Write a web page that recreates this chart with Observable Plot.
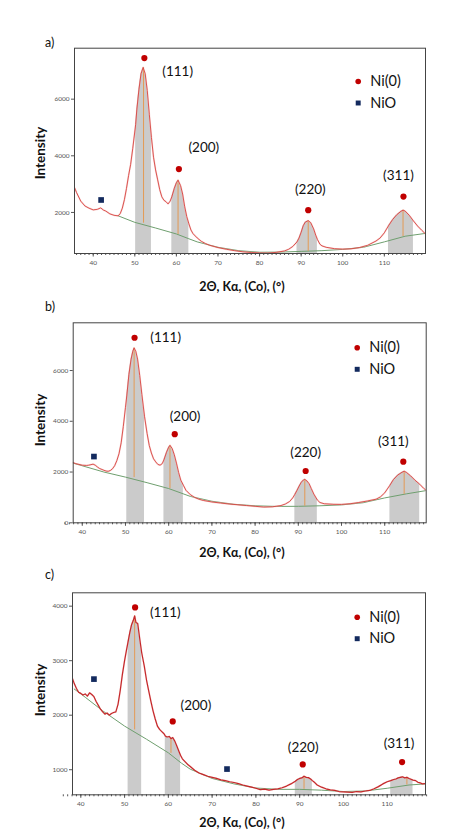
<!DOCTYPE html>
<html><head><meta charset="utf-8">
<script src="https://cdn.jsdelivr.net/npm/d3@7"></script>
<script src="https://cdn.jsdelivr.net/npm/@observablehq/plot@0.6"></script>
<style>
body{margin:0;background:#fff;font-family:Lato,"Open Sans",sans-serif;}
#wrap{position:relative;width:474px;height:831px;overflow:hidden;background:#fff;}
.panel{position:absolute;left:0;}
.lbl{position:absolute;font-size:12.5px;line-height:12px;color:#111;}
.ytitle{position:absolute;font-weight:bold;font-size:13.5px;transform:translate(-50%,-50%) rotate(-90deg);white-space:nowrap;color:#111;}
.xtitle{position:absolute;font-weight:bold;font-size:12.5px;transform:translate(-50%,-50%);white-space:nowrap;color:#111;}
</style></head>
<body><div id="wrap"></div>
<script>
// ---------- shared ----------
const millerLabels = ["(111)", "(200)", "(220)", "(311)"];
const legendLabels = ["Ni(0)", "NiO"];
const xMajorTicks = [40, 50, 60, 70, 80, 90, 100, 110];
const xTitle = "2Θ, Kα, (Co), (°)";
const yTitle = "Intensity";

// ---------- panel a ----------
const twoThetaA = [35.5,36,37,38,39,40,41,41.8,42.5,43,44,45,46,46.5,47,47.5,48,48.5,49,49.5,50.2,50.5,51,51.5,52,52.5,53,53.5,54,54.5,55,55.5,56,56.5,57,57.5,58,58.5,58.9,59.5,60,60.4,61,61.5,62,62.5,63,63.5,64,65,66,67,68,70,72,74,76,78,80,82,84,86,87,88,89,89.5,90,90.5,91,91.7,92.3,93,93.5,93.9,94.5,95,96,98,100,102,104,106,108,109,110,111,112,113,114,114.5,115,116,117,118,119,119.9];
const intensityA = [2880,2700,2400,2230,2150,2090,2110,2160,2080,2050,1950,1900,1880,1960,2150,2450,2850,3300,3700,4250,5100,5650,6350,6900,7120,6900,6300,5450,4650,3950,3500,3150,2800,2550,2430,2380,2300,2400,2550,2850,3050,3140,2950,2650,2200,1850,1600,1380,1250,1100,980,900,840,760,700,650,610,585,570,565,590,640,700,800,960,1100,1300,1530,1660,1710,1640,1420,1200,1050,880,820,770,720,705,715,760,840,990,1100,1280,1530,1750,1920,2040,2080,2050,1900,1700,1520,1370,1240];
const baseXA = [46,50,55,60,63,65,70,75,80,85,90,95,100,105,110,115,119.9];
const baseYA = [1880,1650,1450,1240,1070,960,770,650,595,600,625,650,695,770,960,1160,1260];
const winLoA = [50.2, 58.9, 89.0, 111.0];
const winHiA = [54.0, 63.0, 93.9, 117.0];
const peakXA = [52.1, 60.4, 91.7, 114.5];
const peakBaseA = [1620, 1220, 625, 1150];
const peakTopA = [7120, 3140, 1710, 2080];
const ni0XA = [52.3, 60.6, 91.7, 114.6];
const ni0YA = [7450, 3530, 2080, 2560];
const nioXA = [41.9];
const nioYA = [2440];
const millerXA = [60.3, 66.6, 92.2, 113.4];
const millerYA = [6974, 4293, 2788, 3294];
const yTicksA = [2000, 4000, 6000];

// ---------- panel b ----------
const twoThetaB = [37.9,38.5,39,40,41,41.5,42,42.5,43,43.5,44,45,45.5,46,46.5,47,47.5,48,48.5,49,49.5,50,50.3,50.8,51.3,51.7,52,52.4,52.8,53.3,53.8,54.4,55,55.5,56,56.5,57,57.5,58,58.5,58.9,59.5,60,60.3,60.8,61.3,61.8,62.3,62.8,63.4,64,65,66,67,68,70,72,74,76,78,80,82,84,86,87,88,88.7,89.2,89.7,90.2,90.7,91.2,91.5,92,92.5,93,93.6,94.4,95,96,98,100,102,104,106,108,109,110,111.2,112,113,114,114.5,115,116,117,118.1,119,119.6];
const intensityB = [2370,2330,2310,2270,2260,2270,2290,2310,2270,2200,2140,2070,2040,2030,2060,2130,2250,2450,2720,3150,3800,4550,5000,5850,6450,6760,6890,6750,6450,5800,5050,4200,3520,3050,2750,2520,2400,2300,2270,2330,2480,2780,2980,3050,2930,2680,2350,1980,1680,1480,1280,1110,1000,930,880,820,780,740,710,680,650,620,630,680,740,840,980,1120,1280,1450,1600,1690,1710,1650,1540,1350,1130,900,800,750,730,725,750,800,860,930,1020,1180,1480,1700,1880,1990,2030,1990,1850,1680,1520,1360,1280];
const baseXB = [37.9,45,50,55,60,65,70,75,80,85,90,95,100,105,110,115,119.6];
const baseYB = [2350,2000,1800,1580,1350,1040,850,730,670,645,650,670,705,790,980,1140,1270];
const winLoB = [50.3, 58.9, 89.2, 111.2];
const winHiB = [54.4, 63.4, 94.4, 118.1];
const peakXB = [52.0, 60.3, 91.5, 114.5];
const peakBaseB = [1780, 1350, 650, 1120];
const peakTopB = [6890, 3050, 1710, 2030];
const ni0XB = [52.1, 61.4, 91.7, 114.3];
const ni0YB = [7290, 3490, 2040, 2410];
const nioXB = [42.7];
const nioYB = [2610];
const millerXB = [59.3, 63.8, 91.7, 112.0];
const millerYB = [7304, 4172, 2750, 3185];
const yTicksB = [0, 2000, 4000, 6000];

// ---------- panel c ----------
const twoThetaC = [38.1,38.5,39,39.5,40,40.5,41,41.5,42,42.5,43,43.5,44,44.5,45,45.5,46,46.5,47,47.5,48,48.5,49,49.5,50,50.4,50.8,51.2,51.6,52,52.3,52.6,53,53.5,53.9,54.5,55,55.5,56,56.5,57,57.5,58,58.5,59,59.3,59.7,60.2,60.6,61,61.5,62,62.4,62.8,63.2,63.8,64.5,65,66,67,68,69,70,71,72,73,74,75,76,77,78,79,80,81,82,83,84,85,86,87,88,89,89.5,90,90.5,91,91.5,92,92.5,92.9,93.5,94,95,96,97,98,99,100,101,102,103,104,105,106,107,108,109,110,110.8,111.5,112,112.5,113,113.5,114,114.5,115,115.9,116.5,117,117.5,118,118.75];
const intensityC = [2670,2580,2490,2420,2400,2370,2390,2350,2410,2380,2340,2250,2180,2110,2060,2020,2040,2000,2030,2050,2060,2200,2450,2750,3000,3180,3350,3520,3660,3740,3820,3700,3680,3380,3150,2900,2650,2450,2260,2080,1930,1800,1740,1700,1660,1620,1600,1610,1570,1590,1520,1420,1340,1260,1200,1150,1090,1060,990,940,910,880,860,840,815,800,780,765,745,720,700,680,660,635,645,625,640,650,670,700,740,790,820,840,850,880,860,855,830,800,760,720,680,650,630,620,600,595,590,585,600,595,610,620,650,690,740,780,800,820,830,850,860,870,850,860,840,810,800,770,760,740,745];
const baseXC = [38.5,41,45,50,55,60,63,65,70,75,80,85,90,95,100,105,110,115,118.75];
const baseYC = [2480,2330,2080,1800,1560,1310,1120,1010,840,740,665,640,640,625,600,610,660,720,740];
const winLoC = [50.8, 59.3, 89.0, 110.8];
const winHiC = [53.9, 62.8, 92.9, 115.9];
const peakXC = [52.3, 60.6, 91.0, 114.5];
const peakBaseC = [1730, 1300, 640, 720];
const peakTopC = [3820, 1570, 880, 860];
const ni0XC = [52.4, 61.0, 90.7, 113.4];
const ni0YC = [3976, 1886, 1098, 1141];
const nioXC = [43.0, 73.4];
const nioYC = [2662, 1012];
const millerXC = [59.3, 66.3, 90.8, 112.7];
const millerYC = [3878, 2179, 1409, 1477];
const yTicksC = [1000, 2000, 3000, 4000];

const GREY = "#cbcbcb", GREEN = "#6f9f6f", ORANGE = "#e39a55",
      DOT_RED = "#c00000", NAVY = "#132a5e";

function panel(p) {
  const pts = p.tt.map((x, i) => ({x, y: p.I[i]}));
  const base = p.bx.map((x, i) => ({x, y: p.by[i]}));
  const marks = [];
  p.lo.forEach((lo, k) => {
    const hi = p.hi[k];
    marks.push(Plot.areaY(pts.filter(d => d.x >= lo - 1e-9 && d.x <= hi + 1e-9),
      {x: "x", y1: p.yDomain[0], y2: "y", fill: GREY, clip: true}));
  });
  marks.push(Plot.line(base, {x: "x", y: "y", stroke: GREEN, strokeWidth: 1, clip: true}));
  marks.push(Plot.ruleX(p.px.map((x, i) => ({x, y1: p.pb[i], y2: p.pt[i]})),
    {x: "x", y1: "y1", y2: "y2", stroke: ORANGE, strokeWidth: 1}));
  marks.push(Plot.line(pts, {x: "x", y: "y", stroke: "#f3b0b0", strokeWidth: 1.8, strokeOpacity: 0.45, clip: true}));
  marks.push(Plot.line(pts, {x: "x", y: "y", stroke: p.lineColor, strokeWidth: p.lineWidth, clip: true}));
  marks.push(Plot.dot(p.nx.map((x, i) => ({x, y: p.ny[i]})), {x: "x", y: "y", r: 3.1, fill: DOT_RED}));
  marks.push(Plot.dot(p.ox.map((x, i) => ({x, y: p.oy[i]})), {x: "x", y: "y", r: 3.2, symbol: "square", fill: NAVY}));
  marks.push(Plot.text(millerLabels.map((t, i) => ({t, x: p.mx[i], y: p.my[i]})),
    {x: "x", y: "y", text: "t", fontSize: 13.5, fill: "#111", fontFamily: "Lato"}));
  // legend
  marks.push(Plot.dot([legendLabels[0]], {frameAnchor: "top-right", dx: p.lgx, dy: p.lgy, r: 2.8, fill: DOT_RED}));
  marks.push(Plot.dot([legendLabels[1]], {frameAnchor: "top-right", dx: p.lgx, dy: p.lgy + 21.5, r: 2.8, symbol: "square", fill: NAVY}));
  marks.push(Plot.text([legendLabels[0]], {frameAnchor: "top-right", text: d => d, dx: p.lgx + 12, dy: p.lgy,
    textAnchor: "start", lineAnchor: "middle", fontSize: 14.5, fill: "#111", fontFamily: "Lato"}));
  marks.push(Plot.text([legendLabels[1]], {frameAnchor: "top-right", text: d => d, dx: p.lgx + 12, dy: p.lgy + 21.5,
    textAnchor: "start", lineAnchor: "middle", fontSize: 14.5, fill: "#111", fontFamily: "Lato"}));
  // axes
  marks.push(Plot.axisX({ticks: d3.range(36, 120, 1), tickSize: 2, tickFormat: () => "", label: null, color: "#555"}));
  marks.push(Plot.axisX({ticks: xMajorTicks, tickSize: 3.5, tickPadding: 3, fontSize: 6.5, tickFormat: d => String(d), label: null, color: "#555"}));
  marks.push(Plot.axisY({ticks: p.yTicks, tickSize: 3, tickPadding: 2, fontSize: 6.5, tickFormat: d => String(d), label: null, color: "#555"}));
  marks.push(Plot.frame({stroke: "#444", strokeWidth: 1}));
  return Plot.plot({
    width: 474, height: p.h,
    marginLeft: p.ml, marginRight: p.mr, marginTop: p.mt, marginBottom: p.mb,
    x: {domain: p.xDomain},
    y: {domain: p.yDomain},
    style: {fontFamily: "Lato, sans-serif", background: "#fff", overflow: "visible"},
    marks
  });
}

const wrap = document.getElementById("wrap");
const panels = [
  {top: 30, h: 240, ml: 74, mr: 49, mt: 17.7, mb: 17, xDomain: [35.5, 119.9], yDomain: [550, 7800],
   tt: twoThetaA, I: intensityA, bx: baseXA, by: baseYA, lo: winLoA, hi: winHiA, px: peakXA, pb: peakBaseA, pt: peakTopA,
   nx: ni0XA, ny: ni0YA, ox: nioXA, oy: nioYA, mx: millerXA, my: millerYA, yTicks: yTicksA, lgx: -67.3, lgy: 33.3,
   lineColor: "#d64541", lineWidth: 0.9, letter: "a)", letterTop: 37, yt: 153, xt: 286},
  {top: 300, h: 240, ml: 72.7, mr: 48.3, mt: 22.3, mb: 17.7, xDomain: [37.9, 119.6], yDomain: [0, 7880],
   tt: twoThetaB, I: intensityB, bx: baseXB, by: baseYB, lo: winLoB, hi: winHiB, px: peakXB, pb: peakBaseB, pt: peakTopB,
   nx: ni0XB, ny: ni0YB, ox: nioXB, oy: nioYB, mx: millerXB, my: millerYB, yTicks: yTicksB, lgx: -69, lgy: 25,
   lineColor: "#d64541", lineWidth: 0.9, letter: "b)", letterTop: 301, yt: 420, xt: 552},
  {top: 570, h: 240, ml: 72, mr: 49, mt: 22.3, mb: 15.7, xDomain: [38.1, 118.75], yDomain: [540, 4245],
   tt: twoThetaC, I: intensityC, bx: baseXC, by: baseYC, lo: winLoC, hi: winHiC, px: peakXC, pb: peakBaseC, pt: peakTopC,
   nx: ni0XC, ny: ni0YC, ox: nioXC, oy: nioYC, mx: millerXC, my: millerYC, yTicks: yTicksC, lgx: -68.3, lgy: 24.4,
   lineColor: "#c4282a", lineWidth: 1.2, letter: "c)", letterTop: 569, yt: 690, xt: 822}
];

panels.forEach(p => {
  const svg = panel(p);
  svg.classList.add("panel");
  svg.style.top = p.top + "px";
  wrap.appendChild(svg);
  const l = document.createElement("div"); l.className = "lbl"; l.style.left = "45px"; l.style.top = p.letterTop + "px"; l.textContent = p.letter; wrap.appendChild(l);
  const y = document.createElement("div"); y.className = "ytitle"; y.style.left = "40px"; y.style.top = p.yt + "px"; y.textContent = yTitle; wrap.appendChild(y);
  const x = document.createElement("div"); x.className = "xtitle"; x.style.left = "242px"; x.style.top = p.xt + "px"; x.textContent = xTitle; wrap.appendChild(x);
});
</script>
</body></html>
